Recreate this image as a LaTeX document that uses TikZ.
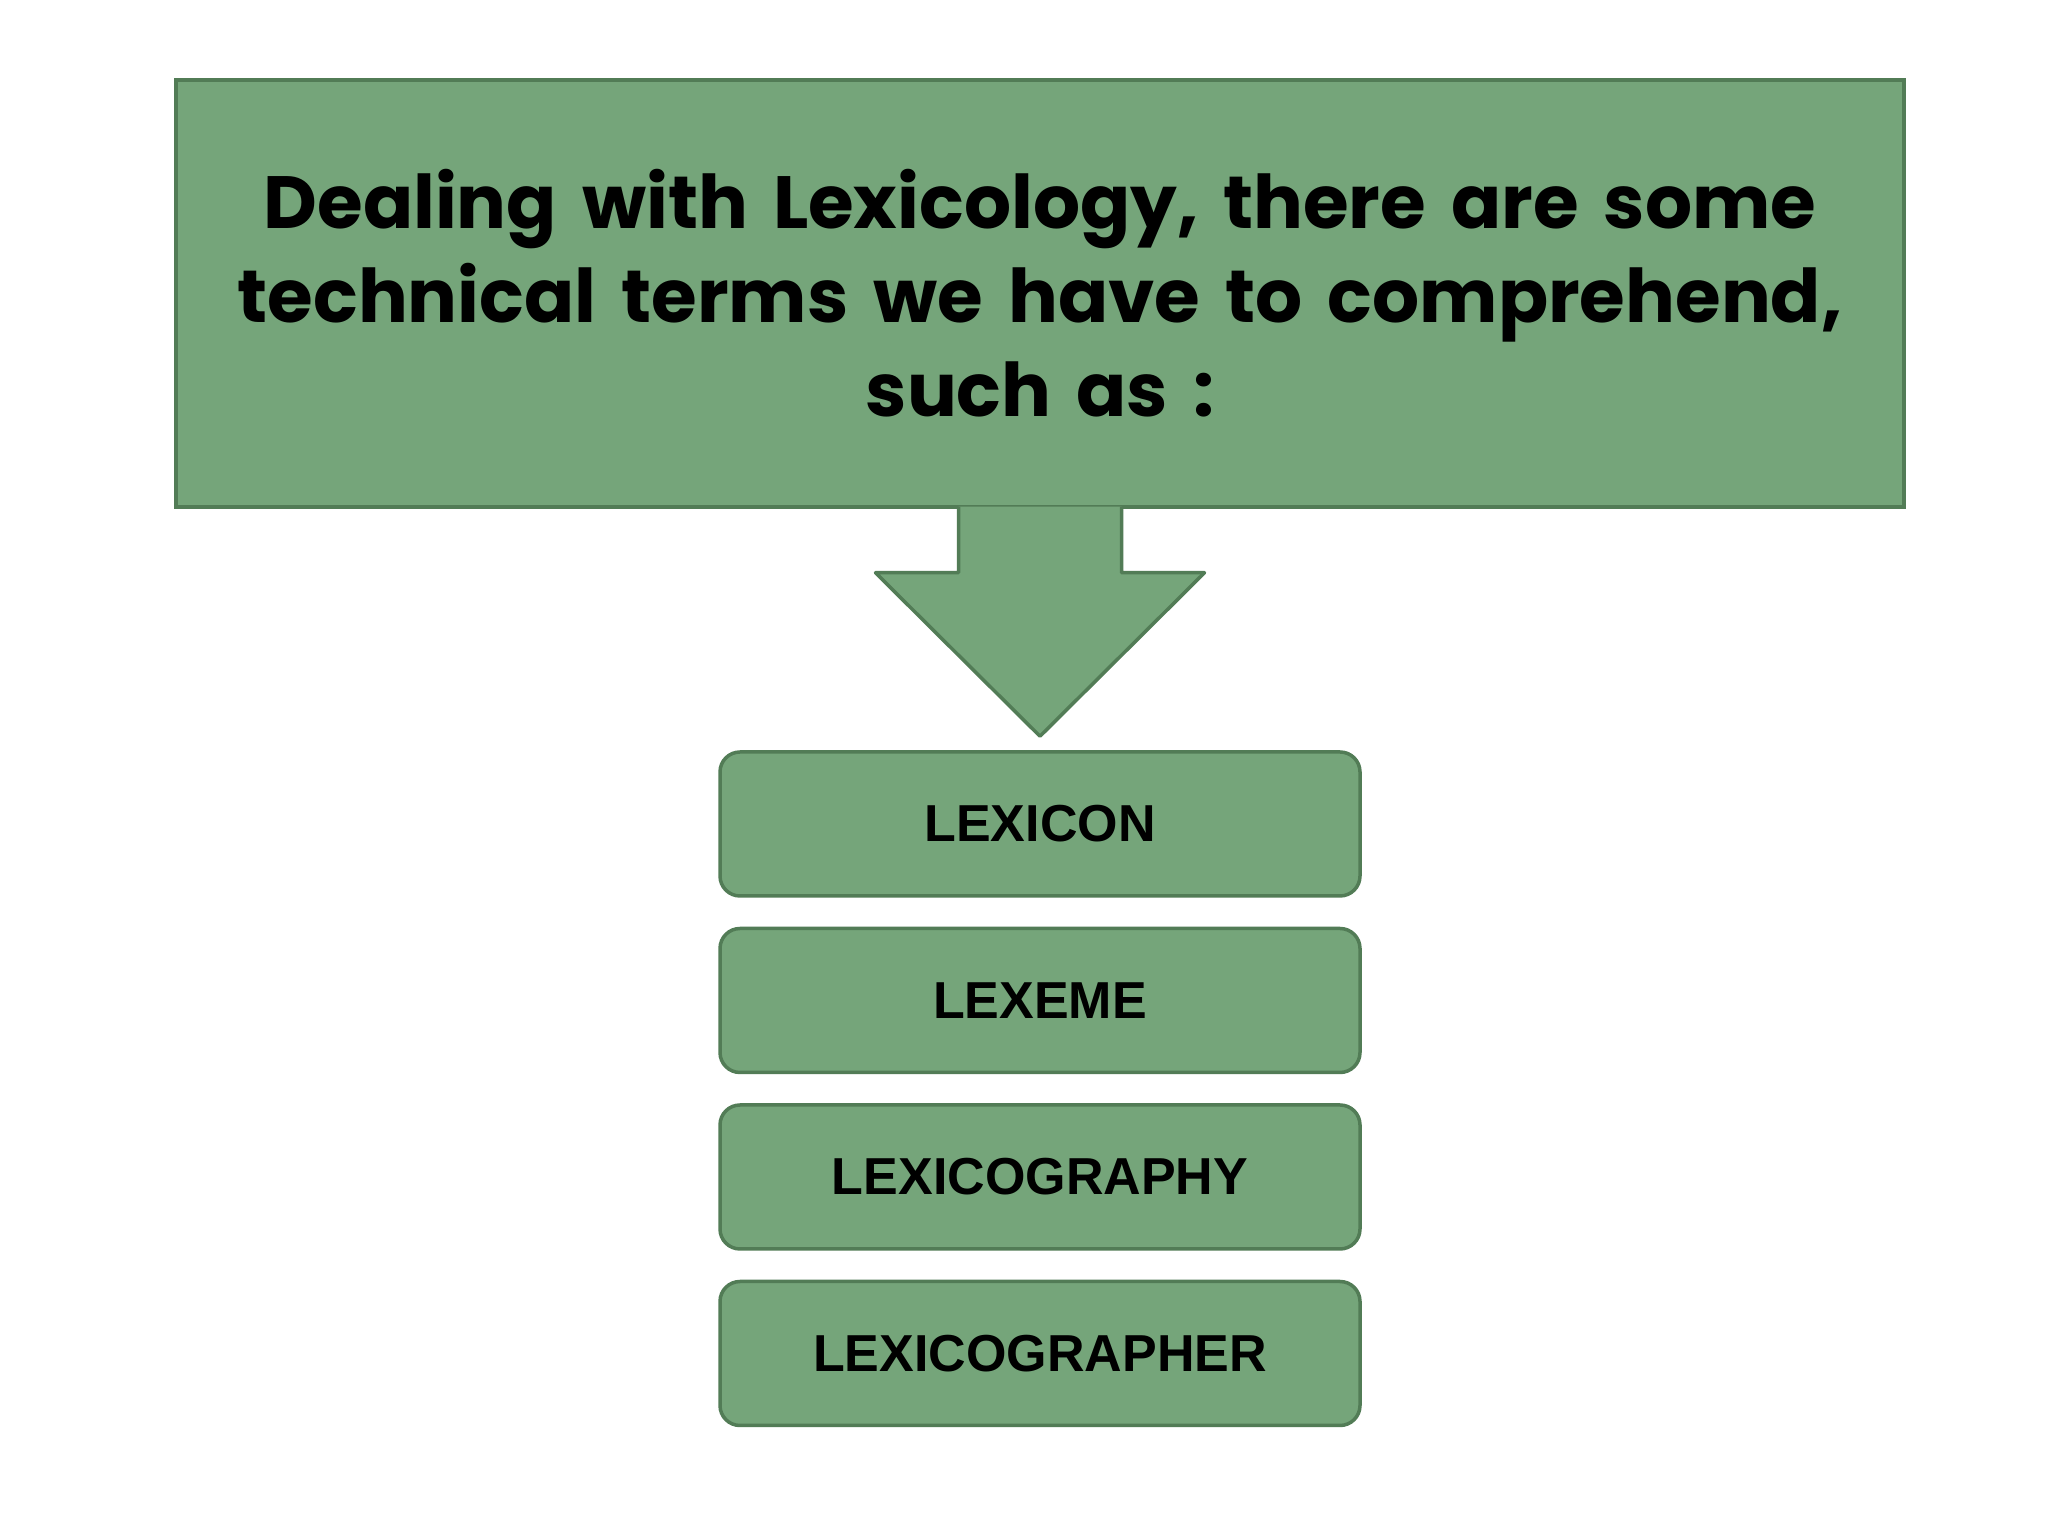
\documentclass[tikz,border=0pt]{standalone}
\usepackage{fontspec}
\usepackage{tikz}
\usepackage{xcolor}
\usetikzlibrary{calc,positioning}
\newfontfamily\headfont{Poppins}[WordSpace={1.6}]
\setmainfont{Liberation Sans}
\definecolor{sage}{RGB}{117,165,122}
\definecolor{sageline}{RGB}{82,124,86}

\begin{document}
\begin{tikzpicture}[x=1pt,y=1pt,
hdr/.style={draw=sageline, line width=3.5pt, fill=sage, minimum width=1728pt, minimum height=427pt, align=center, font=\headfont\bfseries\fontsize{74}{94}\selectfont},
term/.style={draw=sageline, line width=3.5pt, fill=sage, rounded corners=20pt, minimum width=640pt, minimum height=144pt, font=\bfseries\fontsize{52}{60}\selectfont}]
	\useasboundingbox[fill=white] (0,0) rectangle (2048,1536);
	\node[hdr] at (1040,1242.5) (intro) {Dealing with Lexicology, there are some\\technical terms we have to comprehend,\\such as :};
	\node[term] at (1040,712) (term1) {LEXICON};
	\node[term, below=29pt of term1] (term2) {LEXEME};
	\node[term, below=29pt of term2] (term3) {LEXICOGRAPHY};
	\node[term, below=29pt of term3] (term4) {LEXICOGRAPHER};
	% arrow between the header and the terms
	\coordinate (sl) at ([shift={(-81.5pt,2pt)}]intro.south);
	\coordinate (sr) at ([shift={(81.5pt,2pt)}]intro.south);
	\coordinate (tip) at ([yshift=14pt]term1.north);
	\filldraw[fill=sage, draw=sageline, line width=3.5pt, line join=round] (sl) -- ++(0,-66) -- ++(-83,0) -- (tip) -- ([shift={(83,-66)}]sr) -- ++(-83,0) -- (sr);
\end{tikzpicture}
\end{document}
